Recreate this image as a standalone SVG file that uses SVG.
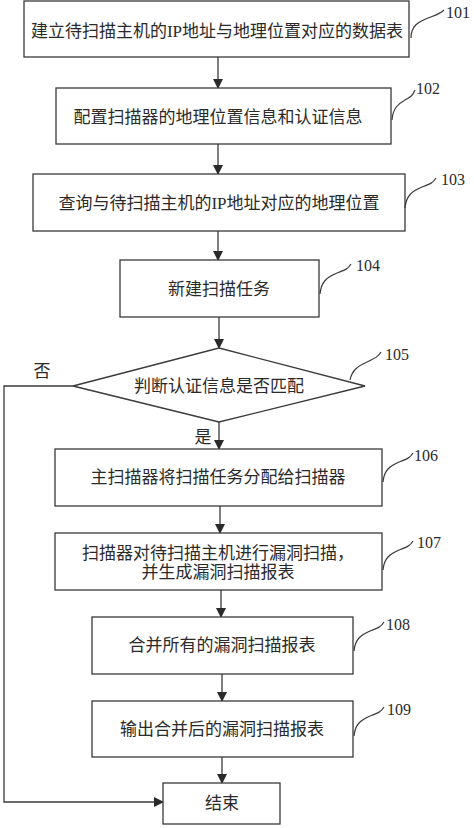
<svg xmlns="http://www.w3.org/2000/svg" width="474" height="828" viewBox="0 0 474 828">
<style>
.box{fill:#fff;stroke:#3a3a3a;stroke-width:1.3}
.t{font-family:"Liberation Serif","Noto Sans CJK SC",serif;font-size:17px;fill:#2a2a2a;text-anchor:middle;dominant-baseline:central}
.n{font-family:"Liberation Serif",serif;font-size:16px;fill:#2a2a2a;dominant-baseline:central}
.ln{fill:none;stroke:#3a3a3a;stroke-width:1.3}
.ld{fill:none;stroke:#3a3a3a;stroke-width:1.2}
</style>
<defs>
<marker id="ah" markerWidth="10" markerHeight="10" refX="9" refY="5" orient="auto" markerUnits="userSpaceOnUse">
<path d="M0,0 L10,5 L0,10 Z" fill="#2a2a2a"/>
</marker>
</defs>
<rect width="474" height="828" fill="#fff"/>
<g id="connectors">
<line class="ln" x1="218" y1="57" x2="218" y2="88" marker-end="url(#ah)"/>
<line class="ln" x1="218" y1="144" x2="218" y2="174" marker-end="url(#ah)"/>
<line class="ln" x1="218" y1="231" x2="218" y2="260" marker-end="url(#ah)"/>
<line class="ln" x1="219" y1="317" x2="219" y2="348" marker-end="url(#ah)"/>
<line class="ln" x1="219" y1="422" x2="219" y2="449" marker-end="url(#ah)"/>
<line class="ln" x1="220" y1="506" x2="220" y2="533" marker-end="url(#ah)"/>
<line class="ln" x1="221" y1="590" x2="221" y2="617" marker-end="url(#ah)"/>
<line class="ln" x1="222" y1="674" x2="222" y2="701" marker-end="url(#ah)"/>
<line class="ln" x1="222" y1="757" x2="222" y2="783" marker-end="url(#ah)"/>
<polyline class="ln" points="73,386 4,386 4,802 163,802" marker-end="url(#ah)"/>
<text class="t" x="42" y="371">否</text>
<text class="t" x="203" y="437">是</text>
</g>
<g id="n101">
<rect class="box" x="24" y="1" width="385" height="56"/>
<text class="t" x="217" y="31">建立待扫描主机的IP地址与地理位置对应的数据表</text>
<path class="ld" d="M411,38 C411,26 418,22 428,18 C436,15 440,14 444,10"/>
<text class="n" x="446" y="12">101</text>
</g>
<g id="n102">
<rect class="box" x="56" y="88" width="335" height="56"/>
<text class="t" x="218" y="117">配置扫描器的地理位置信息和认证信息</text>
<path class="ld" d="M392,120 C393,108 398,104 405,100 C411,97 413,95 415,90"/>
<text class="n" x="416" y="88">102</text>
</g>
<g id="n103">
<rect class="box" x="33" y="174" width="372" height="57"/>
<text class="t" x="219" y="203">查询与待扫描主机的IP地址对应的地理位置</text>
<path class="ld" d="M405,208 C406,196 412,191 422,187 C430,184 433,183 436,178"/>
<text class="n" x="441" y="179">103</text>
</g>
<g id="n104">
<rect class="box" x="120" y="260" width="199" height="57"/>
<text class="t" x="219" y="289">新建扫描任务</text>
<path class="ld" d="M320,294 C321,282 327,277 337,273 C345,270 348,269 351,264"/>
<text class="n" x="356" y="265">104</text>
</g>
<g id="n105">
<polygon class="box" points="219,348 365,386 219,422 73,386"/>
<text class="t" x="219" y="386">判断认证信息是否匹配</text>
<path class="ld" d="M350,380 C352,370 358,366 367,362 C375,358 378,357 381,352"/>
<text class="n" x="385" y="354">105</text>
</g>
<g id="n106">
<rect class="box" x="55" y="449" width="327" height="57"/>
<text class="t" x="218" y="477">主扫描器将扫描任务分配给扫描器</text>
<path class="ld" d="M383,482 C384,470 390,466 399,462 C407,459 410,458 413,453"/>
<text class="n" x="414" y="455">106</text>
</g>
<g id="n107">
<rect class="box" x="55" y="533" width="327" height="57"/>
<text class="t" x="218" y="553">扫描器对待扫描主机进行漏洞扫描，</text>
<text class="t" x="218" y="572">并生成漏洞扫描报表</text>
<path class="ld" d="M383,570 C384,558 390,554 399,550 C407,547 410,546 413,541"/>
<text class="n" x="417" y="542">107</text>
</g>
<g id="n108">
<rect class="box" x="92" y="617" width="261" height="57"/>
<text class="t" x="222" y="645">合并所有的漏洞扫描报表</text>
<path class="ld" d="M354,651 C355,639 361,635 370,631 C378,628 381,627 384,622"/>
<text class="n" x="386" y="624">108</text>
</g>
<g id="n109">
<rect class="box" x="92" y="701" width="261" height="56"/>
<text class="t" x="222" y="729">输出合并后的漏洞扫描报表</text>
<path class="ld" d="M354,736 C355,724 361,720 370,716 C378,713 381,712 384,707"/>
<text class="n" x="387" y="709">109</text>
</g>
<g id="end">
<rect class="box" x="163" y="783" width="117" height="41"/>
<text class="t" x="222" y="803">结束</text>
</g>
</svg>
